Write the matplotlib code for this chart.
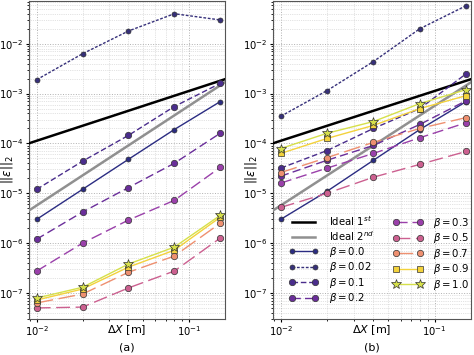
import numpy as np
import matplotlib
matplotlib.use("Agg")
import matplotlib.pyplot as plt
from matplotlib.ticker import LogLocator, NullFormatter

dx = [0.01, 0.02, 0.04, 0.08, 0.16]
betas = [0.0, 0.02, 0.1, 0.2, 0.3, 0.5, 0.7, 0.9, 1.0]
yticks = [1e-7, 1e-6, 1e-5, 1e-4, 1e-3, 1e-2]
xticks = [1e-2, 1e-1]

# panel (a) errors
err_a = {
    0.0:  [3.0e-6, 1.2e-5, 4.8e-5, 1.9e-4, 6.9e-4],
    0.02: [1.9e-3, 6.3e-3, 1.8e-2, 4.0e-2, 3.0e-2],
    0.1:  [1.2e-5, 4.4e-5, 1.45e-4, 5.5e-4, 1.6e-3],
    0.2:  [1.2e-6, 4.2e-6, 1.3e-5, 4.0e-5, 1.6e-4],
    0.3:  [2.75e-7, 1.0e-6, 2.9e-6, 7.2e-6, 3.3e-5],
    0.5:  [5.0e-8, 5.2e-8, 1.26e-7, 2.75e-7, 1.26e-6],
    0.7:  [6.3e-8, 9.5e-8, 2.6e-7, 5.5e-7, 2.5e-6],
    0.9:  [7.2e-8, 1.2e-7, 3.3e-7, 7.2e-7, 3.3e-6],
    1.0:  [7.9e-8, 1.3e-7, 3.8e-7, 8.3e-7, 3.6e-6],
}
# panel (b) errors
err_b = {
    0.0:  [3.0e-6, 1.1e-5, 4.6e-5, 1.9e-4, 6.9e-4],
    0.02: [3.5e-4, 1.15e-3, 4.4e-3, 2.0e-2, 5.8e-2],
    0.1:  [3.2e-5, 7.2e-5, 2.0e-4, 5.0e-4, 2.5e-3],
    0.2:  [2.2e-5, 4.6e-5, 9.1e-5, 2.4e-4, 7.2e-4],
    0.3:  [1.6e-5, 3.2e-5, 6.3e-5, 1.3e-4, 2.6e-4],
    0.5:  [5.2e-6, 1.0e-5, 2.1e-5, 3.8e-5, 6.9e-5],
    0.7:  [2.6e-5, 5.2e-5, 1.05e-4, 2.0e-4, 3.3e-4],
    0.9:  [6.3e-5, 1.26e-4, 2.3e-4, 5.0e-4, 9.1e-4],
    1.0:  [7.9e-5, 1.6e-4, 2.75e-4, 6.3e-4, 1.2e-3],
}

ideal1_coef = 0.0113
ideal2_coef = 0.057

colors = {
    0.0: "#2b2c82", 0.02: "#36307a", 0.1: "#4a2d8c", 0.2: "#6a2e9a",
    0.3: "#9a40aa", 0.5: "#cc6090", 0.7: "#ee9070", 0.9: "#f3d23c",
    1.0: "#d6e04a",
}
styles = {
    0.0: "-", 0.02: (0, (2.0, 1.2)), 0.1: (0, (4, 2)), 0.2: (0, (6, 3)),
    0.3: (0, (8, 3.5)), 0.5: (0, (10, 4)), 0.7: (0, (12, 4)), 0.9: "-", 1.0: "-",
}
markers = {b: "o" for b in betas}
markers[0.9] = "s"
markers[1.0] = "*"
msizes = {b: 4.6 for b in betas}
msizes[0.0] = 3.6
msizes[0.02] = 3.6
msizes[0.9] = 4.6
msizes[1.0] = 7.5

fig = plt.figure(figsize=(4.74, 3.55), dpi=100)
ax_a = fig.add_axes([29/474, 1 - 319/355, 196/474, 318/355])
ax_b = fig.add_axes([273/474, 1 - 319/355, 198/474, 318/355])

xline = np.array([0.005, 0.3])

for ax, err, tag in [(ax_a, err_a, "(a)"), (ax_b, err_b, "(b)")]:
    ax.set_xscale("log")
    ax.set_yscale("log")
    ax.plot(xline, ideal1_coef * xline, color="black", lw=1.8, label="Ideal 1$^{st}$", zorder=3)
    ax.plot(xline, ideal2_coef * xline**2, color="#909090", lw=1.8, label="Ideal 2$^{nd}$", zorder=3)
    for b in betas:
        ax.plot(dx, err[b], color=colors[b], ls=styles[b], lw=1.0,
                marker=markers[b], ms=msizes[b], mfc=colors[b],
                mec="#333333", mew=0.5, label=r"$\beta = %s$" % b, zorder=4)
    ax.set_xlim(0.0089, 0.172)
    ax.set_ylim(3.0e-8, 0.072)
    ax.set_yticks(yticks)
    ax.set_xticks(xticks)
    ax.yaxis.set_minor_locator(LogLocator(base=10, subs=np.arange(2, 10), numticks=20))
    ax.xaxis.set_minor_locator(LogLocator(base=10, subs=np.arange(2, 10), numticks=20))
    ax.yaxis.set_minor_formatter(NullFormatter())
    ax.xaxis.set_minor_formatter(NullFormatter())
    ax.grid(True, which="major", ls=":", lw=0.7, color="#b0b0b0")
    ax.grid(True, which="minor", ls=":", lw=0.5, color="#c8c8c8")
    ax.tick_params(labelsize=7.2, which="major", length=2.5, pad=1.5)
    ax.tick_params(which="minor", length=1.3)
    ax.set_xlabel(r"$\Delta X$ [m]", fontsize=8)
    ax.xaxis.set_label_coords(0.5, -0.012)
    ax.set_ylabel(r"$||\epsilon||_2$", fontsize=8.5)
    ax.yaxis.set_label_coords(-0.07, 0.47)
    ax.text(0.5, -0.09, tag, transform=ax.transAxes, ha="center", va="center", fontsize=8)
    for s in ax.spines.values():
        s.set_color("#555555")

ax_b.legend(ncol=2, fontsize=7.3, loc="lower left", bbox_to_anchor=(0.035, 0.015),
            numpoints=2, handlelength=2.9, columnspacing=1.9, labelspacing=0.15,
            handletextpad=1.0, frameon=False)

fig.savefig("out.png", dpi=100)
